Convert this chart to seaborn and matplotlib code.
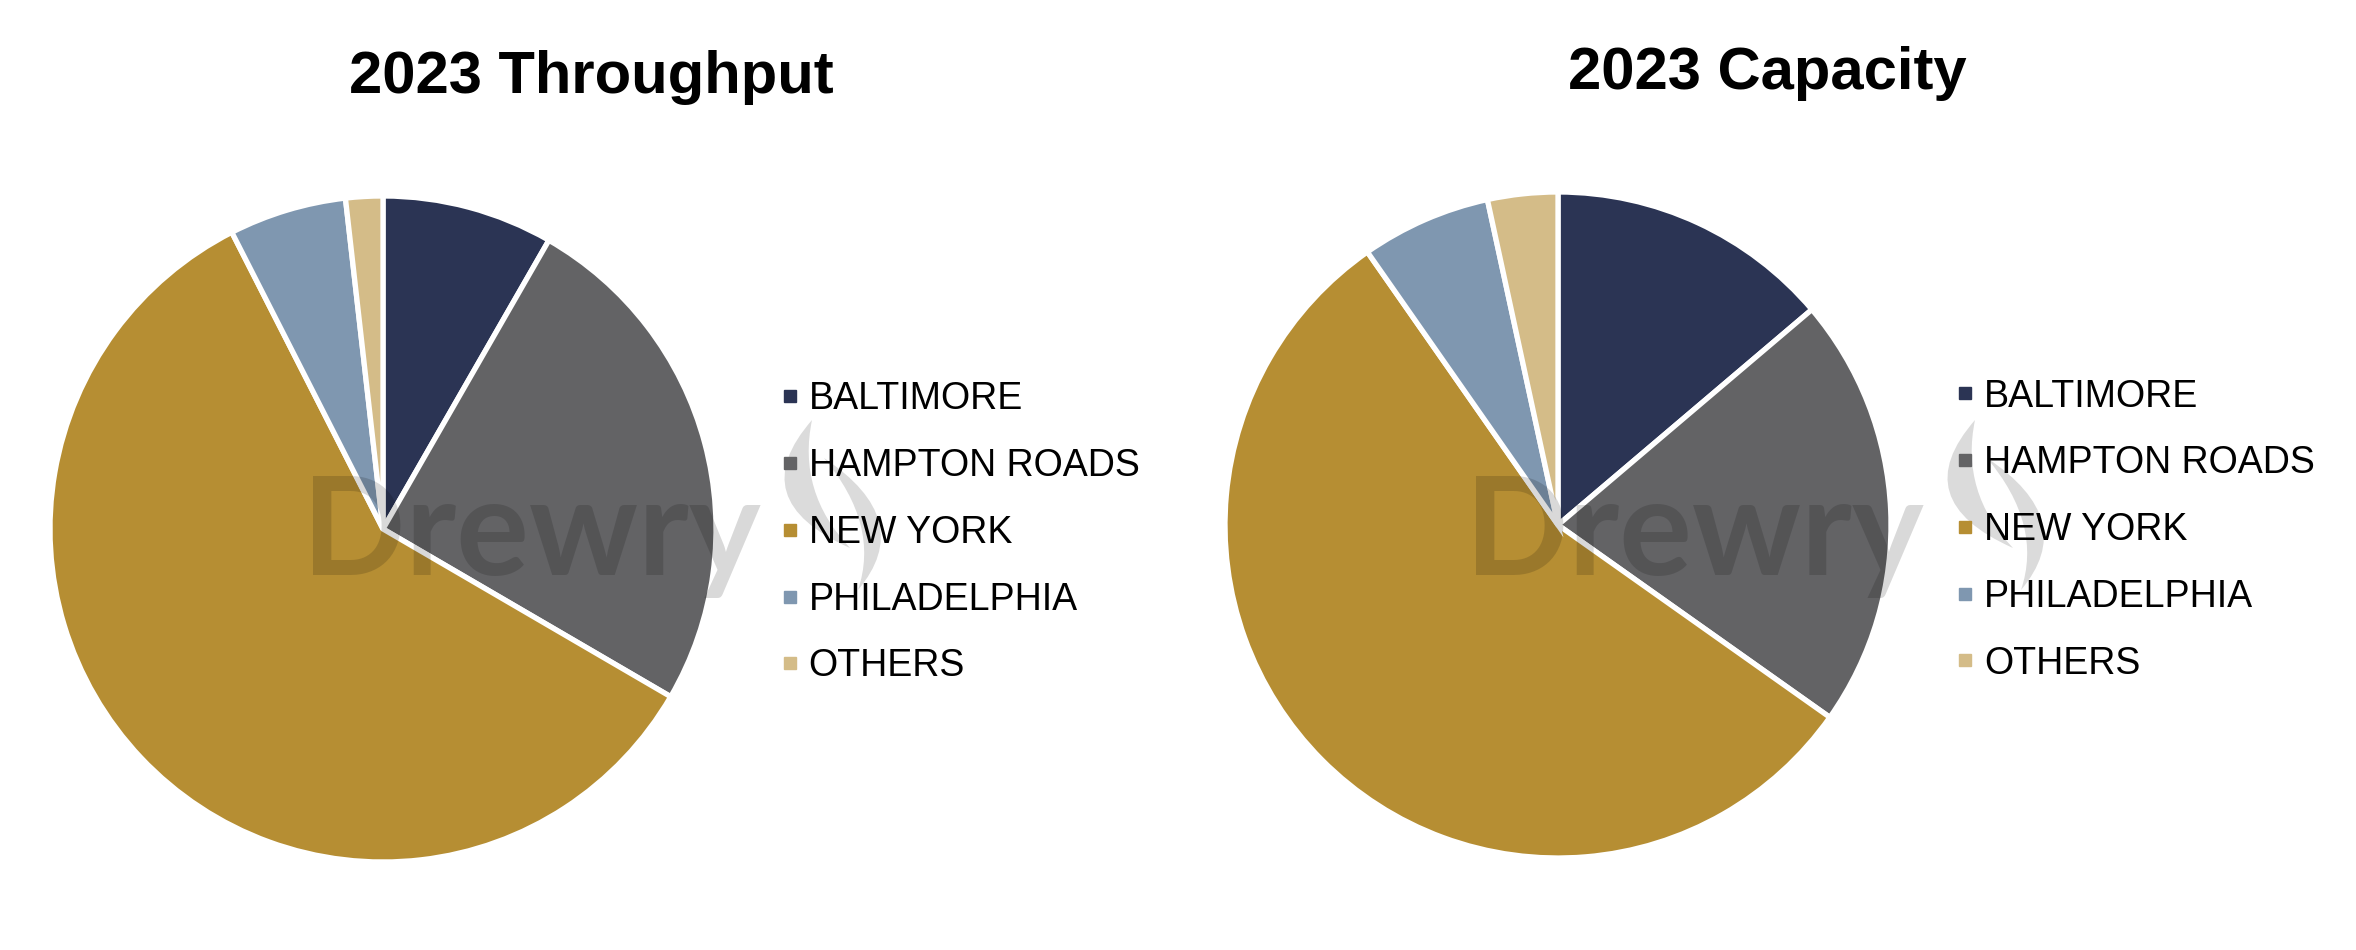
"""Two pie charts: 2023 throughput vs capacity share of US East Coast ports."""

import matplotlib
matplotlib.use("Agg")
import matplotlib.pyplot as plt
import seaborn as sns
from matplotlib.lines import Line2D
from matplotlib.patches import PathPatch
from matplotlib.path import Path

# ---------------------------------------------------------------------------
# Data
# ---------------------------------------------------------------------------

ports = ["BALTIMORE", "HAMPTON ROADS", "NEW YORK", "PHILADELPHIA", "OTHERS"]
throughput_share = [8.3, 25.1, 59.1, 5.7, 1.8]
capacity_share = [13.8, 21.0, 55.5, 6.3, 3.4]
titles = ["2023 Throughput", "2023 Capacity"]

port_colors = ["#2B3454", "#636365", "#B68E33", "#7F97B0", "#D4BC88"]

# ---------------------------------------------------------------------------
# Style
# ---------------------------------------------------------------------------

sns.set_theme(style="white")
plt.rcParams["font.family"] = ["Liberation Sans", "DejaVu Sans"]
plt.rcParams["text.color"] = "black"

W, H = 2356, 950
fig = plt.figure(figsize=(W / 100, H / 100), dpi=100)
fig.patch.set_facecolor("white")

palette = sns.color_palette(port_colors)


def px_box(cx, cy, r):
    """Axes rectangle (figure fraction) for a pie centred at pixel cx, cy."""
    return [(cx - r) / W, (H - cy - r) / H, 2 * r / W, 2 * r / H]


pie_specs = [
    (throughput_share, px_box(383, 529, 333), 591, 93, 0.3313, 0.439),
    (capacity_share, px_box(1558, 525, 333), 1767, 89, 0.8301, 0.442),
]

for (values, box, tx, ty, lx, ly), title in zip(pie_specs, titles):
    ax = fig.add_axes(box)
    ax.pie(
        values,
        colors=palette,
        startangle=90,
        counterclock=False,
        wedgeprops=dict(edgecolor="white", linewidth=3.8),
    )
    ax.set_xlim(-1.0, 1.0)
    ax.set_ylim(-1.0, 1.0)
    ax.set_aspect("equal")
    ax.axis("off")

    fig.text(tx / W, 1 - ty / H, title, ha="center", va="baseline",
             fontsize=43, fontweight="bold", color="black")

    handles = [
        Line2D([0], [0], marker="s", linestyle="none", markersize=9,
               markerfacecolor=c, markeredgecolor=c)
        for c in palette
    ]
    leg = fig.legend(
        handles, ports,
        loc="center left", bbox_to_anchor=(lx, ly),
        frameon=False, fontsize=27,
        handlelength=0.5, handletextpad=0.25,
        labelspacing=0.82, borderpad=0, borderaxespad=0,
    )
    leg.set_zorder(6)
    for t in leg.get_texts():
        t.set_color("black")

# ---------------------------------------------------------------------------
# Drewry watermark (text + flame swooshes), drawn in pixel space
# above the pies but below the legends
# ---------------------------------------------------------------------------

over = fig.add_axes([0, 0, 1, 1], zorder=4)
over.set_xlim(0, W)
over.set_ylim(H, 0)
over.axis("off")
over.patch.set_alpha(0)

for wx in (302, 1465):
    over.text(wx, 575, "Drewry", ha="left", va="baseline",
              fontsize=98, fontweight="bold", color="black", alpha=0.15,
              family=["Lato", "DejaVu Sans"])
    dx = wx + 480
    swoosh_a = Path(
        [(dx + 30, 420), (dx - 40, 500), (dx + 68, 548),
         (dx + 68, 548), (dx + 15, 492), (dx + 30, 420)],
        [Path.MOVETO, Path.CURVE3, Path.CURVE3,
         Path.LINETO, Path.CURVE3, Path.CURVE3],
    )
    swoosh_b = Path(
        [(dx + 42, 458), (dx + 135, 520), (dx + 76, 590),
         (dx + 76, 590), (dx + 98, 525), (dx + 42, 458)],
        [Path.MOVETO, Path.CURVE3, Path.CURVE3,
         Path.LINETO, Path.CURVE3, Path.CURVE3],
    )
    for p in (swoosh_a, swoosh_b):
        over.add_patch(PathPatch(p, facecolor="#cfcfcf", edgecolor="none",
                                 alpha=0.75))

fig.savefig("out.png", dpi=100, facecolor="white")
